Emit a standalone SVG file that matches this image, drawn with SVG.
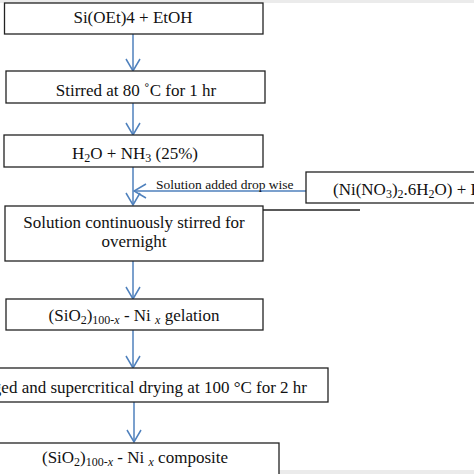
<svg xmlns="http://www.w3.org/2000/svg" width="474" height="474" viewBox="0 0 474 474">
<defs>
<style>
.box{fill:#fff;stroke:#222;stroke-width:1.3}
.t{font-family:"Liberation Serif","Times New Roman",serif;font-size:17px;fill:#111}
.c{text-anchor:middle}
.lbl{font-family:"Liberation Serif","Times New Roman",serif;font-size:13.5px;fill:#111}
.sub{font-size:12px}
.ln{stroke:#4f81bd;stroke-width:1.5;fill:none}
</style>
<marker id="ah" viewBox="0 0 14 16" refX="13" refY="8" markerWidth="14" markerHeight="16" markerUnits="userSpaceOnUse" orient="auto">
<path d="M1,1 L13,8 L1,15" fill="none" stroke="#4f81bd" stroke-width="1.5"/>
</marker>
</defs>
<rect x="0" y="0" width="474" height="474" fill="#fff"/>
<rect x="0" y="0" width="474" height="3" fill="#ebebeb"/>
<rect x="0" y="470" width="474" height="4" fill="#ebebeb"/>

<g id="connectors">
<line class="ln" x1="133" y1="34" x2="133" y2="71" marker-end="url(#ah)"/>
<line class="ln" x1="133" y1="103" x2="133" y2="135" marker-end="url(#ah)"/>
<line class="ln" x1="133" y1="167" x2="133" y2="205" marker-end="url(#ah)"/>
<line class="ln" x1="306" y1="191" x2="134" y2="191" marker-end="url(#ah)"/>
<text class="lbl" x="156" y="189">Solution added drop wise</text>
<line class="ln" x1="133" y1="261" x2="133" y2="299" marker-end="url(#ah)"/>
<line class="ln" x1="133" y1="330" x2="133" y2="368" marker-end="url(#ah)"/>
<line class="ln" x1="134" y1="402" x2="134" y2="442" marker-end="url(#ah)"/>
<line x1="263" y1="210" x2="360" y2="210" stroke="#222" stroke-width="1.3"/>
</g>

<g id="n1">
<rect class="box" x="4.5" y="3" width="258.5" height="31"/>
<text class="t c" x="133" y="23">Si(OEt)4 + EtOH</text>
</g>
<g id="n2">
<rect class="box" x="6" y="71" width="259" height="32"/>
<text class="t c" x="136" y="96">Stirred at 80 ˚C for 1 hr</text>
</g>
<g id="n3">
<rect class="box" x="4" y="135" width="259" height="32"/>
<text class="t c" x="135" y="159">H<tspan class="sub" dy="3">2</tspan><tspan dy="-3">O + NH</tspan><tspan class="sub" dy="3">3</tspan><tspan dy="-3"> (25%)</tspan></text>
</g>
<g id="n_ni">
<rect class="box" x="306" y="172" width="180" height="31"/>
<text class="t" x="333" y="195">(Ni(NO<tspan class="sub" dy="3">3</tspan><tspan dy="-3">)</tspan><tspan class="sub" dy="3">2</tspan><tspan dy="-3">.6H</tspan><tspan class="sub" dy="3">2</tspan><tspan dy="-3">O) + EtOH</tspan></text>
</g>
<g id="n4">
<rect class="box" x="5" y="206" width="258" height="55"/>
<text class="t c" x="134" y="228">Solution continuously stirred for</text>
<text class="t c" x="134" y="247">overnight</text>
</g>
<g id="n5">
<rect class="box" x="6" y="299" width="257" height="31"/>
<text class="t c" x="134" y="321">(SiO<tspan class="sub" dy="3">2</tspan><tspan dy="-3">)</tspan><tspan class="sub" dy="3">100-<tspan font-style="italic">x</tspan></tspan><tspan dy="-3"> - Ni </tspan><tspan class="sub" font-style="italic" dy="3">x</tspan><tspan dy="-3"> gelation</tspan></text>
</g>
<g id="n6">
<rect class="box" x="-10" y="368" width="338" height="34"/>
<text class="t" x="307" y="393" text-anchor="end">Aged and supercritical drying at 100 °C for 2 hr</text>
</g>
<g id="n7">
<rect class="box" x="-10" y="443" width="289" height="40"/>
<text class="t c" x="135" y="463">(SiO<tspan class="sub" dy="3">2</tspan><tspan dy="-3">)</tspan><tspan class="sub" dy="3">100-<tspan font-style="italic">x</tspan></tspan><tspan dy="-3"> - Ni </tspan><tspan class="sub" font-style="italic" dy="3">x</tspan><tspan dy="-3"> composite</tspan></text>
</g>
</svg>
